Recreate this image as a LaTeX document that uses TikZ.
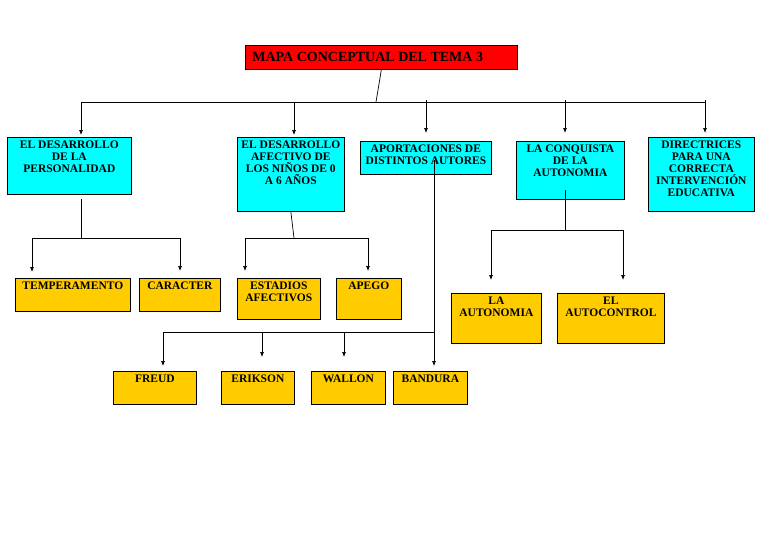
\documentclass[tikz,border=0pt]{standalone}
\usepackage{fontspec}
\setmainfont{Liberation Serif}
\usetikzlibrary{arrows.meta}
\definecolor{cy}{HTML}{00FFFF}
\definecolor{ye}{HTML}{FFCC00}
\definecolor{rd}{HTML}{FF0000}
\newcommand{\bx}[7]{%
  \node[draw=black, fill=#6, minimum width={#4-#2}, minimum height={#5-#3}, anchor=north west, inner sep=0pt] (#1) at (#2,#3) {};
  \node[anchor=north, align=center, inner sep=0pt, font=\fontsize{11.5}{12}\selectfont\bfseries] (#1-t) at ([yshift=-4pt]#1.north) {#7};}
\begin{document}
\begin{tikzpicture}[x=1pt,y=-1pt, line width=0.7pt,
  arr/.style={-{Latex[length=5pt,width=4pt]}}]
\useasboundingbox (0,0) rectangle (768,543);
\node[draw=black, fill=rd, minimum width=272, minimum height=24, anchor=north west, inner sep=0pt] (T) at (245,45) {};
\node[anchor=west, inner sep=0pt, font=\fontsize{14}{16}\selectfont\bfseries] (T-t) at ([xshift=7pt]T.west) {MAPA CONCEPTUAL DEL TEMA 3};
\bx{A}{7}{137}{131}{194}{cy}{EL DESARROLLO\\DE LA\\PERSONALIDAD}
\bx{B}{237}{137}{344}{211}{cy}{EL DESARROLLO\\AFECTIVO DE\\LOS NIÑOS DE 0\\A 6 AÑOS}
\bx{C}{360}{141}{491}{174}{cy}{APORTACIONES DE\\DISTINTOS AUTORES}
\bx{D}{516}{141}{624}{199}{cy}{LA CONQUISTA\\DE LA\\AUTONOMIA}
\bx{E}{648}{137}{754}{211}{cy}{DIRECTRICES\\PARA UNA\\CORRECTA\\INTERVENCIÓN\\EDUCATIVA}
\bx{TE}{15}{278}{130}{311}{ye}{TEMPERAMENTO}
\bx{CA}{139}{278}{220}{311}{ye}{CARACTER}
\bx{ES}{237}{278}{320}{319}{ye}{ESTADIOS\\AFECTIVOS}
\bx{AP}{336}{278}{401}{319}{ye}{APEGO}
\bx{FR}{113}{371}{196}{404}{ye}{FREUD}
\bx{ER}{221}{371}{294}{404}{ye}{ERIKSON}
\bx{WA}{311}{371}{385}{404}{ye}{WALLON}
\bx{BA}{393}{371}{467}{404}{ye}{BANDURA}
\bx{LA}{451}{293}{541}{343}{ye}{LA\\AUTONOMIA}
\bx{EL}{557}{293}{664}{343}{ye}{EL\\AUTOCONTROL}
% top level
\coordinate (h0) at (376,102);
\draw (T.south) -- (h0);
\draw (81,102) -- (705,102);
\draw[arr] (81,102) -- (81,135);
\draw[arr] (294,102) -- (294,135);
\draw[arr] (426,100) -- (426,133);
\draw[arr] (565,100) -- (565,133);
\draw[arr] (705,100) -- (705,133);
% A
\draw (81,199) -- (81,238); \draw (32,238) -- (180,238);
\draw[arr] (32,238) -- (32,272); \draw[arr] (180,238) -- (180,271);
% B
\draw (B.south) -- (294,238); \draw (245,238) -- (368,238);
\draw[arr] (245,238) -- (245,271); \draw[arr] (368,238) -- (368,271);
% C
\draw[arr] (434,160) -- (434,366);
\draw (163,332) -- (434,332);
\draw[arr] (163,332) -- (163,366);
\draw[arr] (262,332) -- (262,357);
\draw[arr] (344,332) -- (344,357);
% D
\draw (565,190) -- (565,230); \draw (491,230) -- (623,230);
\draw[arr] (491,230) -- (491,280); \draw[arr] (623,230) -- (623,280);
\end{tikzpicture}
\end{document}
